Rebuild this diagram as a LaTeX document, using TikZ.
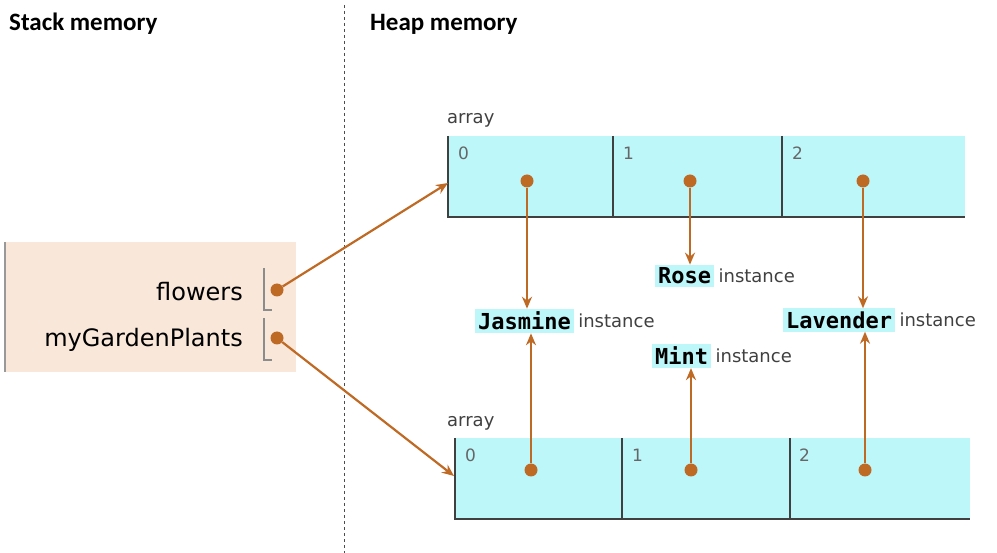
\documentclass[tikz,border=0pt]{standalone}
\usepackage{fontspec}
\setmainfont{DejaVu Sans}
\newfontfamily\hd{Carlito}
\newfontfamily\mono{DejaVu Sans Mono}
\usetikzlibrary{arrows.meta}
\definecolor{cy}{HTML}{BDF7FA}
\definecolor{pe}{HTML}{F9E7DA}
\definecolor{ar}{HTML}{BF6A24}
\begin{document}
\begin{tikzpicture}[x=1pt,y=-1pt,
  dot/.style={circle,fill=ar,inner sep=0,minimum size=13},
  arr/.style={draw=ar,line width=2.2,-{Stealth[length=12,width=10]}},
  inst/.style={fill=cy,inner sep=3,font=\mono\bfseries\fontsize{22}{24}\selectfont,anchor=west},
  lbl/.style={font=\fontsize{18}{20}\selectfont,text=black!75,anchor=west,inner sep=4},
  num/.style={font=\fontsize{17}{19}\selectfont,text=black!60,anchor=west,inner sep=0},
  hdr/.style={font=\hd\bfseries\fontsize{25}{27}\selectfont,anchor=west,inner sep=0}]
\useasboundingbox (0,0) rectangle (997,553);
\node[hdr] (sh) at (9,24) {Stack memory};
\node[hdr] (hh) at (370,24) {Heap memory};
\draw[dashed,black!70] (344,5) -- (344,553);
% stack
\fill[pe] (5,242) rectangle (296,372);
\draw[black!40,line width=1.5] (5,242) -- (5,372);
\node[font=\fontsize{24}{26}\selectfont,anchor=east,inner sep=0] (fl) at (243,292) {flowers};
\node[font=\fontsize{24}{26}\selectfont,anchor=east,inner sep=0] (mg) at (243,340) {myGardenPlants};
\draw[black!45,line width=1.2] (264,268) -- (264,310) -- (272,310);
\draw[black!45,line width=1.2] (264,318) -- (264,360) -- (272,360);
\node[dot] (d1) at (277,290) {};
\node[dot] (d2) at (277,338) {};
% array 1
\node[lbl,inner sep=0] (a1) at (447,120) {array};
\fill[cy] (448,136) rectangle (965,217);
\draw[black!75,line width=1.5] (448,136) -- (448,217) -- (965,217);
\draw[black!75,line width=1.5] (613,136) -- (613,217) (782,136) -- (782,217);
\node[num] at (458,153) {0};
\node[num] at (623,153) {1};
\node[num] at (792,153) {2};
\coordinate (t1) at (448,183);
\node[dot] (p0) at (527,181) {};
\node[dot] (p1) at (690,181) {};
\node[dot] (p2) at (863,181) {};
% array 2
\node[lbl,inner sep=0] (a2) at (447,423) {array};
\fill[cy] (455,438) rectangle (970,519);
\draw[black!75,line width=1.5] (455,438) -- (455,519) -- (970,519);
\draw[black!75,line width=1.5] (622,438) -- (622,519) (790,438) -- (790,519);
\node[num] at (465,455) {0};
\node[num] at (632,455) {1};
\node[num] at (799,455) {2};
\coordinate (t2) at (454,476);
\node[dot] (q0) at (531,470) {};
\node[dot] (q1) at (691,470) {};
\node[dot] (q2) at (865,470) {};
% instances
\node[inst] (rose) at (655,276) {Rose};
\node[lbl] at (rose.east) {instance};
\node[inst] (jas) at (475,321) {Jasmine};
\node[lbl] at (jas.east) {instance};
\node[inst] (mint) at (652,356) {Mint};
\node[lbl] at (mint.east) {instance};
\node[inst] (lav) at (783,320) {Lavender};
\node[lbl] at (lav.east) {instance};
% arrows
\draw[arr] (d1) -- (t1);
\draw[arr] (d2) -- (t2);
\draw[arr] (p0) -- (p0 |- jas.north);
\draw[arr] (p1) -- (p1 |- rose.north);
\draw[arr] (p2) -- (p2 |- lav.north);
\draw[arr] (q0) -- (q0 |- jas.south);
\draw[arr] (q1) -- (q1 |- mint.south);
\draw[arr] (q2) -- (q2 |- lav.south);
\end{tikzpicture}
\end{document}
